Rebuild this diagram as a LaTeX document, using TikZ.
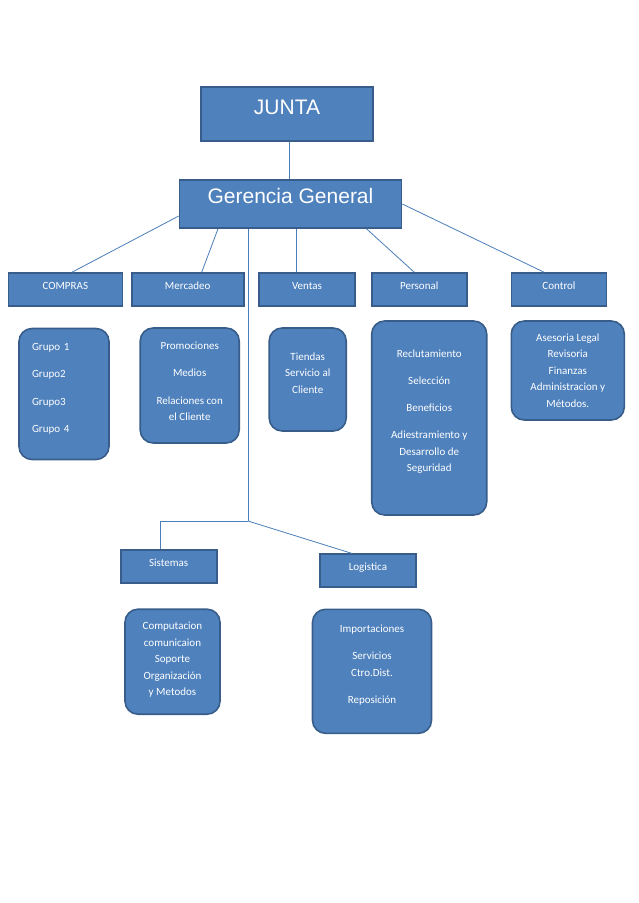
\documentclass[tikz,border=0pt]{standalone}
\usepackage{fontspec}
\setmainfont{Carlito}
\newfontfamily\headfont{Liberation Sans}
\definecolor{boxblue}{HTML}{4F81BD}
\definecolor{boxedge}{HTML}{385D8A}
\definecolor{linkblue}{HTML}{4A7EBB}

\begin{document}
\begin{tikzpicture}[x=1pt, y=-1pt,
    topbox/.style={draw=boxedge, line width=1.6pt, fill=boxblue, text=white, inner sep=0pt,
        font=\headfont\fontsize{21}{25}\selectfont, text height=15pt},
    unitbox/.style={draw=boxedge, line width=1.6pt, fill=boxblue, text=white, inner sep=0pt,
        minimum height=33pt, font=\fontsize{11}{16.5}\selectfont, text height=7pt, text depth=8pt},
    listbox/.style={draw=boxedge, line width=1.6pt, fill=boxblue, text=white, inner sep=0pt,
        rounded corners=13pt, align=center, font=\fontsize{11}{16.5}\selectfont},
    link/.style={draw=linkblue, line width=0.8pt}]
        \useasboundingbox (0,0) rectangle (638,903);

        % Draw nodes
        \node[topbox, minimum width=172pt, minimum height=54pt, text depth=13.2pt] (junta) at (287,114) {JUNTA};
        \node[topbox, minimum width=222pt, minimum height=48pt, text depth=16pt] (gerencia) at (290.5,204) {Gerencia General};

        \node[unitbox, minimum width=114pt] (compras) at (65.3,289.5) {COMPRAS};
        \node[unitbox, minimum width=112pt] (mercadeo) at (187.7,289.5) {Mercadeo};
        \node[unitbox, minimum width=96pt] (ventas) at (307,289.5) {Ventas};
        \node[unitbox, minimum width=95pt] (personal) at (419.2,289.5) {Personal};
        \node[unitbox, minimum width=95pt] (control) at (559,289.5) {Control};

        \node[listbox, minimum width=90pt, minimum height=131pt, text width=64pt, align=left,
            text height=7pt, text depth=94.6pt] (grupos) at (64,394)
            {Grupo 1\\[11pt] Grupo2\\[11pt] Grupo3\\[11pt] Grupo 4};
        \node[listbox, minimum width=99pt, minimum height=115pt, text depth=9pt] (promo) at (189.7,385.5)
            {Promociones\\[11pt] Medios\\[11pt] Relaciones con\\ el Cliente};
        \node[listbox, minimum width=77pt, minimum height=103pt, text depth=13.4pt] (tiendas) at (307.7,379.5)
            {Tiendas\\ Servicio al\\ Cliente};
        \node[listbox, minimum width=115pt, minimum height=194pt, text depth=14.6pt] (reclut) at (429.2,418)
            {Reclutamiento\\[10.5pt] Selección\\[10.5pt] Beneficios\\[10.5pt] Adiestramiento y\\ Desarrollo de\\ Seguridad};
        \node[listbox, minimum width=113pt, minimum height=99pt, text depth=0pt] (asesoria) at (567.8,370.5)
            {Asesoria Legal\\ Revisoria\\ Finanzas\\ Administracion y\\ Métodos.};

        \node[unitbox, minimum width=96pt] (sistemas) at (168.7,566.7) {Sistemas};
        \node[unitbox, minimum width=96pt] (logistica) at (367.9,570.7) {Logistica};

        \node[listbox, minimum width=95pt, minimum height=105pt, text depth=5.4pt] (computo) at (172.5,661.7)
            {Computacion\\ comunicaion\\ Soporte\\ Organización\\ y Metodos};
        \node[listbox, minimum width=119pt, minimum height=124pt, text depth=14.1pt] (importa) at (372,671.3)
            {Importaciones\\[10.5pt] Servicios\\ Ctro.Dist.\\[10.5pt] Reposición};

        \coordinate (split) at (248,521);

        % Draw connections
        \draw[link] ([xshift=2pt]junta.south) -- ([xshift=-1.5pt]gerencia.north);
        \draw[link] ([yshift=-12pt]gerencia.west) -- ([xshift=6.7pt]compras.north);
        \draw[link] ([xshift=-72.5pt]gerencia.south) -- ([xshift=14pt]mercadeo.north);
        \draw[link] ([xshift=6.2pt]gerencia.south) -- ([xshift=-10.3pt]ventas.north);
        \draw[link] ([xshift=76pt]gerencia.south) -- ([xshift=-5pt]personal.north);
        \draw[link] (gerencia.east) -- ([xshift=-15pt]control.north);
        \draw[link] ([xshift=-42.5pt]gerencia.south) -- (split);
        \draw[link] (split) -| ([xshift=-8pt]sistemas.north);
        \draw[link] (split) -- ([xshift=-16pt]logistica.north);
    \end{tikzpicture}
\end{document}
